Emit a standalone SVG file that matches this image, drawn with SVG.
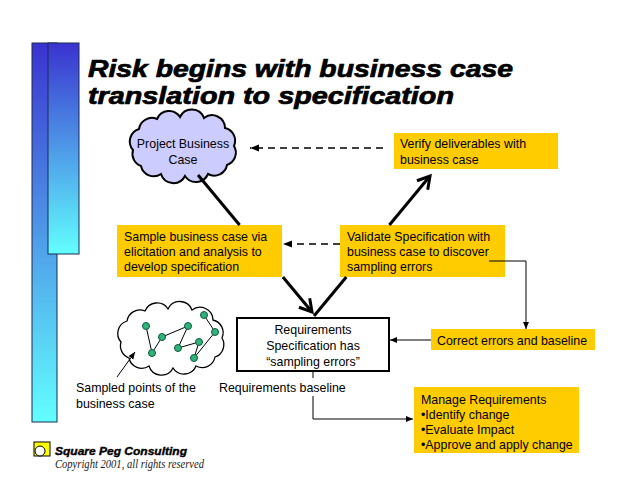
<svg xmlns="http://www.w3.org/2000/svg" width="638" height="478" viewBox="0 0 638 478">
<defs>
<linearGradient id="barg" x1="0" y1="0" x2="0" y2="1">
<stop offset="0" stop-color="#3a33cf"/>
<stop offset="1" stop-color="#62ffff"/>
</linearGradient>
<path id="cloud" d="M-50,4 A13,13 0 0 1 -44,-17 A13,13 0 0 1 -26,-27 A13,13 0 0 1 -3,-29 A13,13 0 0 1 21,-28 A13,13 0 0 1 42,-18 A13,13 0 0 1 51,0 A13,13 0 0 1 44,19 A13,13 0 0 1 25,28 A13,13 0 0 1 2,30 A13,13 0 0 1 -22,28 A13,13 0 0 1 -42,20 A13,13 0 0 1 -50,4 Z"/>
<marker id="vhead" markerUnits="userSpaceOnUse" markerWidth="18" markerHeight="18" viewBox="0 0 18 18" refX="15" refY="9" orient="auto">
<path d="M3,2 L15,9 L3,16" fill="none" stroke="#000" stroke-width="3"/>
</marker>
<marker id="dhead" markerUnits="userSpaceOnUse" markerWidth="10" markerHeight="8" viewBox="0 0 10 8" refX="9" refY="4" orient="auto">
<path d="M0,0.5 L9,4 L0,7.5 Z" fill="#000"/>
</marker>
<marker id="thead" markerUnits="userSpaceOnUse" markerWidth="8" markerHeight="8" viewBox="0 0 8 8" refX="7" refY="4" orient="auto">
<path d="M0,1 L7,4 L0,7 Z" fill="#000"/>
</marker>
</defs>
<style>
.box{fill:#ffcc00;}
.t{font-family:"Liberation Sans",Arial,sans-serif;font-size:12.4px;fill:#000;}
.title{font-family:"Liberation Sans",Arial,sans-serif;font-size:23px;font-weight:bold;font-style:italic;fill:#000;stroke:#000;stroke-width:0.7px;}
.thick{stroke:#000;stroke-width:3;fill:none;}
.dash{stroke:#000;stroke-width:1.5;fill:none;stroke-dasharray:7 5;}
.thin{stroke:#000;stroke-width:1;fill:none;}
.pt{fill:#2fb37c;stroke:#0f5a3a;stroke-width:1;}
</style>
<rect width="638" height="478" fill="#fff"/>

<g id="bars">
<rect x="32" y="43" width="25" height="379" fill="url(#barg)" stroke="#1b2b55" stroke-width="1"/>
<rect x="48" y="43" width="31" height="211" fill="url(#barg)" stroke="#1b2b55" stroke-width="1"/>
</g>

<g id="title">
<text class="title" x="88" y="77" textLength="425" lengthAdjust="spacingAndGlyphs">Risk begins with business case</text>
<text class="title" x="88" y="104" textLength="366" lengthAdjust="spacingAndGlyphs">translation to specification</text>
</g>

<g id="project-business-case">
<use href="#cloud" transform="translate(183,146)" fill="#ccccff" stroke="#000" stroke-width="2"/>
<text class="t" x="183" y="148" text-anchor="middle">Project Business</text>
<text class="t" x="183" y="164" text-anchor="middle">Case</text>
</g>

<g id="verify">
<rect class="box" x="394" y="133" width="164" height="36"/>
<text class="t" x="400" y="148">Verify deliverables with</text>
<text class="t" x="400" y="164">business case</text>
</g>

<g id="sample">
<rect class="box" x="117" y="225" width="165" height="52"/>
<text class="t" x="124" y="241">Sample business case via</text>
<text class="t" x="124" y="256">elicitation and analysis to</text>
<text class="t" x="124" y="271">develop specification</text>
</g>

<g id="validate">
<rect class="box" x="340" y="225" width="165" height="52"/>
<text class="t" x="347" y="241">Validate Specification with</text>
<text class="t" x="347" y="256">business case to discover</text>
<text class="t" x="347" y="271">sampling errors</text>
</g>

<g id="sampled-points">
<use href="#cloud" transform="translate(171,338)" fill="#fff" stroke="#000" stroke-width="1.3"/>
<polyline class="thin" points="146,326 152,353 162,337 188,326 178,348 199,342 194,358 215,332 204,315"/>
<circle class="pt" cx="146" cy="326" r="3.5"/>
<circle class="pt" cx="152" cy="353" r="3.5"/>
<circle class="pt" cx="162" cy="337" r="3.5"/>
<circle class="pt" cx="188" cy="326" r="3.5"/>
<circle class="pt" cx="178" cy="348" r="3.5"/>
<circle class="pt" cx="199" cy="342" r="3.5"/>
<circle class="pt" cx="194" cy="358" r="3.5"/>
<circle class="pt" cx="215" cy="332" r="3.5"/>
<circle class="pt" cx="204" cy="315" r="3.5"/>
<text class="t" x="76" y="392">Sampled points of the</text>
<text class="t" x="76" y="408">business case</text>
</g>

<g id="requirements">
<rect x="237" y="318" width="152" height="53" fill="#fff" stroke="#000" stroke-width="2"/>
<text class="t" x="313" y="334" text-anchor="middle">Requirements</text>
<text class="t" x="313" y="350" text-anchor="middle">Specification has</text>
<text class="t" x="313" y="366" text-anchor="middle">“sampling errors”</text>
<text class="t" x="219" y="392">Requirements baseline</text>
</g>

<g id="correct">
<rect class="box" x="431" y="329" width="164" height="21"/>
<text class="t" x="437" y="345">Correct errors and baseline</text>
</g>

<g id="manage">
<rect class="box" x="414" y="387" width="165" height="66"/>
<text class="t" x="421" y="404">Manage Requirements</text>
<text class="t" x="421" y="419">•Identify change</text>
<text class="t" x="421" y="434">•Evaluate Impact</text>
<text class="t" x="421" y="449">•Approve and apply change</text>
</g>

<g id="footer">
<rect x="34" y="442" width="16" height="14" fill="#ffff00" stroke="#000" stroke-width="1"/>
<circle cx="40" cy="451" r="5" fill="#fff" stroke="#000" stroke-width="1"/>
<text x="55" y="455" textLength="132" lengthAdjust="spacingAndGlyphs" style="font-family:'Liberation Sans',Arial,sans-serif;font-size:11.5px;font-weight:bold;font-style:italic;stroke:#000;stroke-width:0.4px">Square Peg Consulting</text>
<text x="55" y="468" textLength="149" lengthAdjust="spacingAndGlyphs" style="font-family:'Liberation Serif','Times New Roman',serif;font-size:11.5px;font-style:italic;fill:#222">Copyright 2001, all rights reserved</text>
</g>

<g id="connectors">
<line class="thick" x1="198" y1="175" x2="239.6" y2="225"/>
<line class="thick" x1="282.9" y1="277" x2="312" y2="312" marker-end="url(#vhead)"/>
<line class="thick" x1="314" y1="316" x2="346.3" y2="277"/>
<line class="thick" x1="389.4" y1="225" x2="430" y2="176" marker-end="url(#vhead)"/>
<line class="dash" x1="383" y1="148" x2="250" y2="148" marker-end="url(#dhead)"/>
<line class="dash" x1="340" y1="244" x2="283" y2="244" marker-end="url(#dhead)"/>
<polyline class="thin" points="489,261 526,261 526,329" marker-end="url(#thead)"/>
<line class="thin" x1="431" y1="340" x2="390" y2="340" marker-end="url(#thead)"/>
<line class="thin" x1="313" y1="371" x2="313" y2="378"/>
<polyline class="thin" points="313,396 313,419 413,419" marker-end="url(#thead)"/>
<line class="thin" x1="117" y1="377" x2="135" y2="352" marker-end="url(#thead)"/>
</g>
</svg>
